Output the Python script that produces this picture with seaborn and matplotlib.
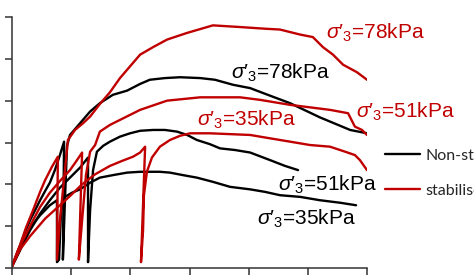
import pandas as pd
import matplotlib
matplotlib.use("Agg")
import matplotlib.pyplot as plt
from matplotlib.lines import Line2D
import seaborn as sns

# axial strain (%) and deviator stress (kPa),
# each curve includes its unload/reload loop
b78_x = [0, 0.14, 0.27, 0.44, 0.61, 0.78, 0.95, 1.12, 1.28, 1.45, 1.62, 1.76, 1.72, 1.79, 1.86, 1.96, 2.30, 2.64,
         2.97, 3.41, 3.89, 4.33, 4.66, 5.17, 5.68, 6.36, 6.86, 7.47, 8.05, 8.72, 9.40, 10.41, 11.43, 12.0]
b78_y = [2, 15, 27, 43, 57, 69, 81, 92, 102, 117, 135, 151, 10, 81, 146, 159, 173, 187,
         197, 207, 212, 220, 225, 227, 228, 227, 225, 219, 215, 206, 197, 180, 165, 161]

b51_x = [0, 0.27, 0.61, 0.95, 1.28, 1.62, 1.96, 2.30, 2.57, 2.57, 2.64, 2.74, 2.87, 3.08, 3.31, 3.65, 3.99, 4.33,
         4.77, 5.17, 5.58, 5.92, 6.25, 6.69, 7.03, 7.54, 8.05, 8.72, 9.23, 9.67]
b51_y = [2, 22, 45, 65, 81, 96, 108, 120, 132, 7, 69, 117, 139, 146, 151, 157, 161, 164,
         165, 165, 163, 159, 153, 148, 143, 141, 138, 129, 122, 117]

b35_x = [0, 0.27, 0.61, 0.95, 1.28, 1.52, 1.52, 1.59, 1.66, 1.79, 2.03, 2.30, 2.64, 2.97, 3.41, 3.89, 4.33, 4.66,
         5.00, 5.34, 5.78, 6.25, 6.79, 7.37, 8.05, 8.55, 9.06, 9.74, 10.41, 11.09, 11.63]
b35_y = [2, 21, 48, 63, 75, 81, 7, 10, 69, 85, 90, 94, 102, 108, 111, 114, 115, 115,
         115, 114, 111, 108, 103, 97, 94, 91, 87, 85, 81, 78, 75]

r78_x = [0, 0.14, 0.27, 0.47, 0.71, 0.95, 1.12, 1.35, 1.55, 1.52, 1.62, 1.79, 1.89, 2.13, 2.40, 2.64, 2.97, 3.31,
         3.65, 4.33, 4.77, 5.24, 5.92, 6.79, 7.71, 8.55, 9.06, 9.74, 10.17, 10.51, 10.85, 11.19, 11.66, 12.0]
r78_y = [2, 15, 27, 48, 69, 91, 105, 121, 133, 10, 57, 117, 153, 165, 173, 181, 196, 210,
         227, 255, 264, 273, 281, 290, 288, 286, 285, 279, 276, 264, 255, 243, 234, 225]

r51_x = [0, 0.20, 0.44, 0.71, 0.95, 1.28, 1.62, 1.96, 2.16, 2.37, 2.26, 2.37, 2.50, 2.64, 2.81, 2.97, 3.31, 4.33,
         5.24, 6.36, 7.71, 8.38, 9.40, 10.75, 11.36, 11.59, 11.83, 12.0]
r51_y = [2, 21, 38, 57, 73, 90, 104, 117, 127, 138, 10, 57, 111, 139, 147, 163, 171, 189,
         200, 204, 204, 201, 195, 189, 185, 169, 165, 159]

r35_x = [0, 0.27, 0.61, 1.12, 1.62, 1.96, 2.37, 2.81, 3.31, 3.72, 4.09, 4.33, 4.50, 4.36, 4.43, 4.46, 4.56, 4.73,
         5.00, 5.34, 5.68, 6.02, 6.69, 7.37, 8.05, 8.72, 9.40, 10.07, 10.75, 11.26, 11.59, 11.76, 12.0]
r35_y = [2, 22, 38, 59, 75, 86, 100, 112, 122, 128, 133, 138, 145, 7, 45, 87, 115, 132,
         145, 153, 158, 161, 161, 160, 159, 155, 151, 147, 145, 139, 135, 129, 117]

curves = {
    ("Non-stabilised", "78"): (b78_x, b78_y),
    ("Non-stabilised", "51"): (b51_x, b51_y),
    ("Non-stabilised", "35"): (b35_x, b35_y),
    ("stabilised", "78"): (r78_x, r78_y),
    ("stabilised", "51"): (r51_x, r51_y),
    ("stabilised", "35"): (r35_x, r35_y),
}

frames = []
for (kind, conf), (xs, ys) in curves.items():
    frames.append(pd.DataFrame({"strain": xs, "q": ys, "kind": kind, "curve": kind + conf}))
df = pd.concat(frames, ignore_index=True)

RED = "#C00000"
colors = {"Non-stabilised": "black", "stabilised": RED}

sns.set_style("ticks")
plt.rcParams["font.family"] = ["Liberation Sans", "DejaVu Sans"]
plt.rcParams["mathtext.fontset"] = "custom"
plt.rcParams["mathtext.rm"] = "Liberation Sans"
plt.rcParams["mathtext.it"] = "Liberation Sans:italic"

fig = plt.figure(figsize=(4.74, 2.75), dpi=100)
ax = fig.add_axes([12 / 474, 7 / 275, 355 / 474, 251 / 275])

sns.lineplot(data=df, x="strain", y="q", hue="kind", units="curve", estimator=None,
             sort=False, palette=colors, linewidth=1.7, legend=False, ax=ax)

ax.set_xlim(0, 12)
ax.set_ylim(0, 300)
ax.set_xticks(range(0, 13, 2))
ax.set_yticks(range(0, 301, 50))
ax.tick_params(direction="out", length=5, width=1.1, color="#333333",
               labelleft=False, labelbottom=False)
for s in ["left", "bottom"]:
    ax.spines[s].set_color("#333333")
    ax.spines[s].set_linewidth(1.1)
sns.despine(ax=ax)
ax.set_xlabel("")
ax.set_ylabel("")

fs = 15
labels = [
    (10.62, 281, "78", RED),
    (7.40, 233, "78", "black"),
    (6.25, 177, "35", RED),
    (11.62, 187, "51", RED),
    (9.00, 99, "51", "black"),
    (8.27, 59, "35", "black"),
]
for lx, ly, p, c in labels:
    ax.text(lx, ly, r"$\sigma$′$_3$=" + p + "kPa", color=c, fontsize=fs, va="center", clip_on=False)

handles = [Line2D([], [], color="black", lw=1.7), Line2D([], [], color=RED, lw=1.7)]
fig.legend(handles, ["Non-stabilised", "stabilised"], loc="center left",
           bbox_to_anchor=(385 / 474, 102 / 275), frameon=False, borderpad=0,
           borderaxespad=0, handlelength=2.2, handletextpad=0.35, labelspacing=1.3,
           prop={"family": "Lato", "size": 11.5})

fig.savefig("out.png", dpi=100)
